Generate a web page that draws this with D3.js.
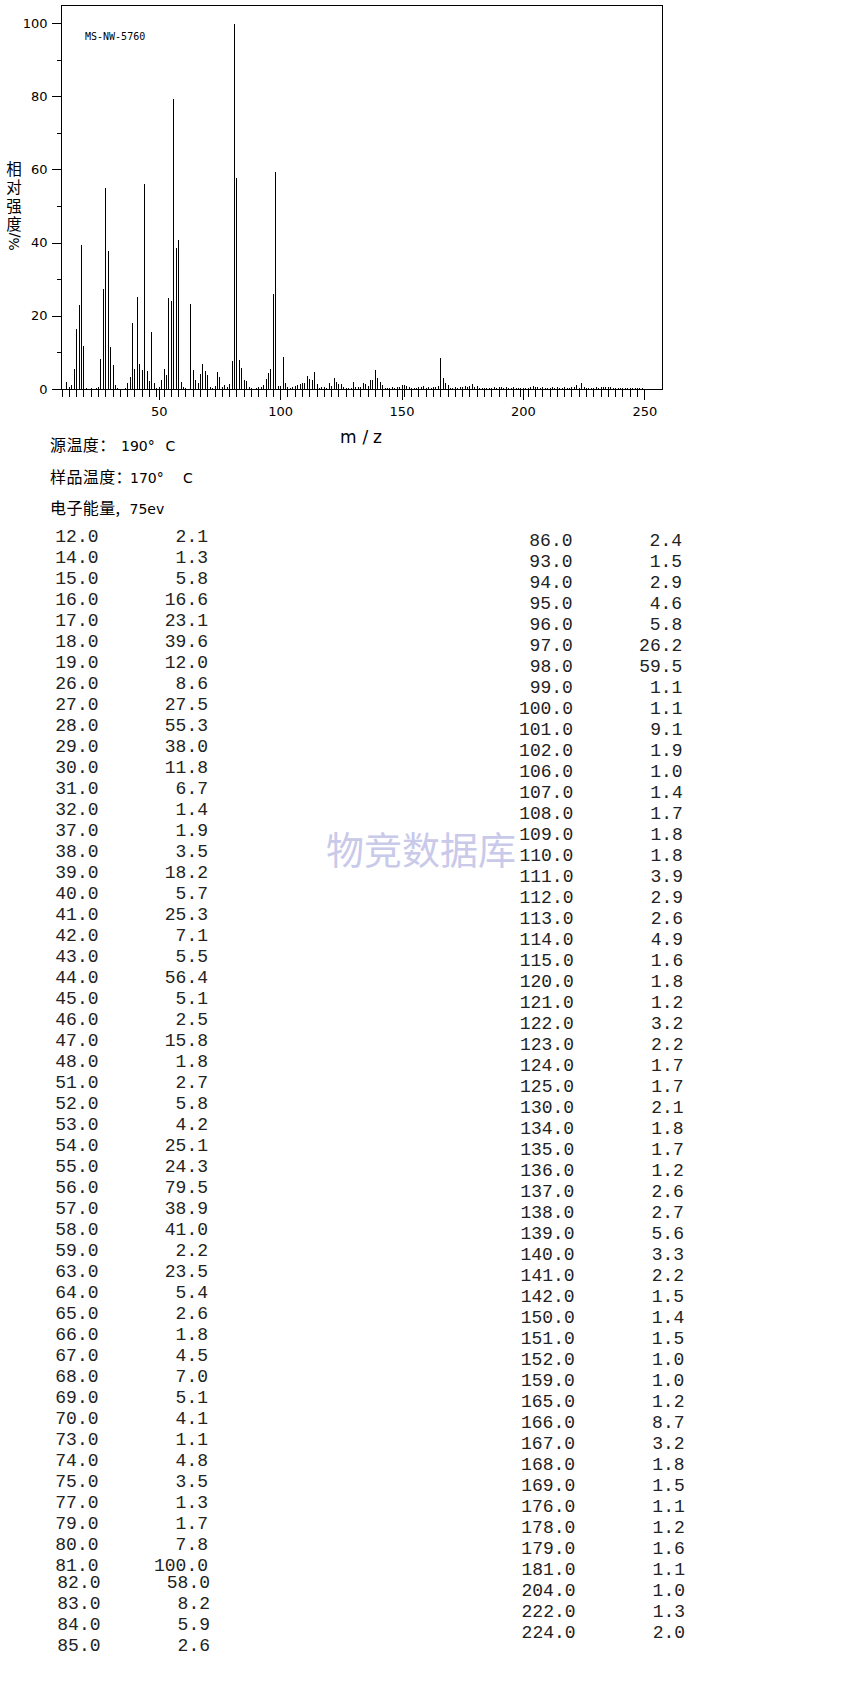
<!DOCTYPE html>
<html><head><meta charset="utf-8">
<script src="https://cdn.jsdelivr.net/npm/d3@7"></script>
<style>body{margin:0;background:#fff}svg{display:block}</style>
</head><body>
<svg id="c" width="850" height="1701"></svg>
<script>
// ---------- data ----------
const tableMz = [12,14,15,16,17,18,19,26,27,28,29,30,31,32,37,38,39,40,41,42,43,44,45,46,47,48,51,52,53,54,55,56,57,58,59,63,64,65,66,67,68,69,70,73,74,75,77,79,80,81,82,83,84,85,
  86,93,94,95,96,97,98,99,100,101,102,106,107,108,109,110,111,112,113,114,115,120,121,122,123,124,125,130,134,135,136,137,138,139,140,141,142,150,151,152,159,165,166,167,168,169,176,178,179,181,204,222,224];
const tableInt = [2.1,1.3,5.8,16.6,23.1,39.6,12.0,8.6,27.5,55.3,38.0,11.8,6.7,1.4,1.9,3.5,18.2,5.7,25.3,7.1,5.5,56.4,5.1,2.5,15.8,1.8,2.7,5.8,4.2,25.1,24.3,79.5,38.9,41.0,2.2,23.5,5.4,2.6,1.8,4.5,7.0,5.1,4.1,1.1,4.8,3.5,1.3,1.7,7.8,100.0,58.0,8.2,5.9,2.6,
  2.4,1.5,2.9,4.6,5.8,26.2,59.5,1.1,1.1,9.1,1.9,1.0,1.4,1.7,1.8,1.8,3.9,2.9,2.6,4.9,1.6,1.8,1.2,3.2,2.2,1.7,1.7,2.1,1.8,1.7,1.2,2.6,2.7,5.6,3.3,2.2,1.5,1.4,1.5,1.0,1.0,1.2,8.7,3.2,1.8,1.5,1.1,1.2,1.6,1.1,1.0,1.3,2.0];
const leftRows = 54;        // rows printed in the left column
const leftBreak = 50;       // left column continues as a second block from this row
// small peaks (<1 %) only visible in the plot
const minorMz = [13,20,22,24,25,33,34,35,36,49,50,60,61,62,71,72,76,78,87,88,89,90,91,92,103,104,105,116,117,118,119,126,127,128,129,131,132,133,143,144,145,146,147,148,149,153,154,155,156,157,158,160,161,162,163,164,170,171,172,173,174,175,177,180,
  182,183,184,185,186,187,188,189,190,191,192,193,194,195,196,197,198,199,200,201,202,203,205,206,207,208,209,210,211,212,213,214,215,216,217,218,219,220,221,223,225,226,227,228,229,230,231,232,233,234,235,236,237,238,239,240,241,242,243,244,245,246,247,248,249,250];
const minorInt = [0.7,0.5,0.6,0.5,0.9,0.5,0.4,0.3,0.6,0.5,0.7,0.9,0.5,0.4,0.8,0.6,0.8,0.9,0.9,0.5,0.4,0.6,0.9,0.9,0.7,0.6,0.8,0.6,0.7,0.8,0.5,0.7,0.6,0.5,0.6,0.8,0.7,0.7,0.6,0.5,0.5,0.7,0.6,0.8,0.9,0.7,0.5,0.5,0.6,0.8,0.7,0.6,0.8,0.6,0.8,0.8,0.6,0.6,0.7,0.5,0.8,0.9,0.8,0.9,
  0.6,0.5,0.6,0.5,0.6,0.5,0.7,0.6,0.9,0.8,0.6,0.7,0.6,0.5,0.7,0.5,0.6,0.5,0.5,0.6,0.5,0.7,0.9,0.8,0.6,0.7,0.5,0.6,0.5,0.7,0.6,0.7,0.5,0.6,0.7,0.5,0.6,0.7,0.9,0.6,0.8,0.6,0.5,0.5,0.6,0.7,0.5,0.7,0.8,0.9,0.7,0.8,0.5,0.6,0.6,0.5,0.6,0.5,0.6,0.6,0.5,0.6,0.6,0.5,0.6,0.4];
const yTicks = [0,20,40,60,80,100];
const yMinorTicks = [10,30,50,70,90];
const xMajorTicks = [50,100,150,200,250];
const xMinorTicks = d3.range(10, 251, 3);
const specId = "MS-NW-5760";
const yLabelCn = "相对强度";
const yLabelTail = "%/";
const xLabelChars = ["m","/","z"];
const headerCn = ["源温度：","样品温度：","电子能量,"];
const headerVal = ["190°","170°","75ev"];
const headerUnit = ["C","C",""];
const watermark = "物竞数据库";

// ---------- drawing ----------
const svg = d3.select("#c");
const x = d3.scaleLinear().domain([10, 257.5]).range([61.6, 662.5]);
const y = d3.scaleLinear().domain([0, 100]).range([389, 23]);
const L = 61.5, R = 662.5, T = 5.5, B = 389.5;

// watermark (under everything)
svg.append("text").attr("x", 326).attr("y", 864)
  .attr("font-family", "'Noto Sans CJK SC'").attr("font-size", 38)
  .attr("fill", "#c9c9ea").text(watermark);

// frame
svg.append("path").attr("d", `M${L},${B}V${T}H${R}V${B}`)
  .attr("fill", "none").attr("stroke", "#000").attr("shape-rendering", "crispEdges");

// peaks
const peaks = tableMz.map((m, i) => ({mz: m, v: tableInt[i]}))
  .concat(minorMz.map((m, i) => ({mz: m, v: minorInt[i]})));
svg.append("g").selectAll("line").data(peaks).join("line")
  .attr("x1", d => Math.round(x(d.mz)) + 0.5).attr("x2", d => Math.round(x(d.mz)) + 0.5)
  .attr("y1", B).attr("y2", d => Math.round(y(d.v)) + 0.5)
  .attr("stroke", "#000").attr("shape-rendering", "crispEdges");

// baseline
svg.append("line").attr("x1", L).attr("x2", R).attr("y1", B).attr("y2", B)
  .attr("stroke", "#000").attr("shape-rendering", "crispEdges");

// y axis
const yAx = svg.append("g").attr("transform", `translate(${L},0)`)
  .call(d3.axisLeft(y).tickValues(yTicks).tickSize(10).tickPadding(4));
yAx.select(".domain").remove();
yAx.attr("font-family", "'DejaVu Sans'").attr("font-size", 13);
yAx.selectAll("line").attr("shape-rendering", "crispEdges");
const yAx2 = svg.append("g").attr("transform", `translate(${L},0)`)
  .call(d3.axisLeft(y).tickValues(yMinorTicks).tickSize(5).tickFormat(""));
yAx2.select(".domain").remove();
yAx2.selectAll("line").attr("shape-rendering", "crispEdges");

// x axis
const xAx2 = svg.append("g").attr("transform", `translate(0,${B})`)
  .call(d3.axisBottom(x).tickValues(xMinorTicks).tickSize(7).tickFormat(""));
xAx2.select(".domain").remove();
xAx2.selectAll("line").attr("shape-rendering", "crispEdges");
const xAx = svg.append("g").attr("transform", `translate(0,${B})`)
  .call(d3.axisBottom(x).tickValues(xMajorTicks).tickSize(10).tickPadding(7));
xAx.select(".domain").remove();
xAx.attr("font-family", "'DejaVu Sans'").attr("font-size", 13);
xAx.selectAll("line").attr("shape-rendering", "crispEdges");

// spectrum id
svg.append("text").attr("x", 85).attr("y", 40)
  .attr("font-family", "'DejaVu Sans Mono'").attr("font-size", 10).text(specId);

// y label: upright CJK column, then rotated "%/"
svg.append("text").attr("x", 14).attr("y", 161.5)
  .style("writing-mode", "vertical-rl")
  .attr("font-family", "'Noto Sans CJK SC'").attr("font-size", 15.5)
  .attr("letter-spacing", 2.8).text(yLabelCn);
svg.append("text").attr("transform", "translate(19,241.7) rotate(-90)")
  .attr("text-anchor", "middle").attr("font-family", "'DejaVu Sans'").attr("font-size", 14)
  .text(yLabelTail);

// x label
const xlPos = [340, 362.5, 373];
svg.append("g").selectAll("text").data(xLabelChars).join("text")
  .attr("x", (d, i) => xlPos[i]).attr("y", 443.3)
  .attr("font-family", "'DejaVu Sans'").attr("font-size", 17).text(d => d);

// header lines
const hY = [450.5, 482.5, 513.5];
const hValX = [121, 130, 129.5];
const hUnitX = [165.5, 183, 0];
headerCn.forEach((t, i) => {
  svg.append("text").attr("x", 50).attr("y", hY[i])
    .attr("font-family", "'Noto Sans CJK SC'").attr("font-size", 16).attr("letter-spacing", 0.4).text(t);
  svg.append("text").attr("x", hValX[i]).attr("y", hY[i])
    .attr("font-family", "'DejaVu Sans'").attr("font-size", 14).text(headerVal[i]);
  if (headerUnit[i]) svg.append("text").attr("x", hUnitX[i]).attr("y", hY[i])
    .attr("font-family", "'DejaVu Sans'").attr("font-size", 14).text(headerUnit[i]);
});

// table
const rows = tableMz.map((m, i) => ({mz: m, v: tableInt[i], i}));
function rowPos(d) {
  if (d.i < leftBreak) return {y: 541.7 + d.i * 21.0, xm: 98.5, xv: 208};
  if (d.i < leftRows) return {y: 1588.3 + (d.i - leftBreak) * 21.0, xm: 100.5, xv: 210};
  const k = d.i - leftRows;
  return {y: 545.7 + k * 21.01, xm: 572.5 + k * 0.06, xv: 682 + k * 0.06};
}
const tg = svg.append("g").attr("font-family", "'Liberation Mono', 'Courier New', monospace")
  .attr("font-size", 18).attr("fill", "#222").attr("text-anchor", "end");
tg.selectAll("text.mz").data(rows).join("text").attr("class", "mz")
  .attr("x", d => rowPos(d).xm).attr("y", d => rowPos(d).y).text(d => d.mz.toFixed(1));
tg.selectAll("text.v").data(rows).join("text").attr("class", "v")
  .attr("x", d => rowPos(d).xv).attr("y", d => rowPos(d).y).text(d => d.v.toFixed(1));
</script>
</body></html>
